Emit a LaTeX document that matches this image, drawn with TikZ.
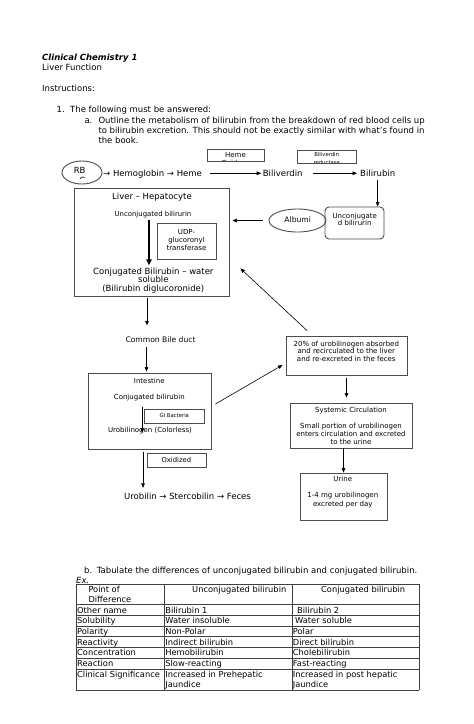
\documentclass[tikz,border=0pt]{standalone}
\usepackage{fontspec}
\setmainfont{DejaVu Sans}
\usetikzlibrary{arrows.meta,shapes.geometric}

\tikzset{
  txt/.style={inner sep=0pt, anchor=base west, font=\fontsize{8.5}{10}\selectfont},
  lbl/.style={inner sep=0pt, anchor=base, font=\fontsize{7}{8}\selectfont},
  tiny/.style={inner sep=0pt, anchor=base, font=\fontsize{5.3}{6}\selectfont},
  tbl/.style={inner sep=0pt, anchor=base west, font=\fontsize{8.3}{10}\selectfont},
  box/.style 2 args={draw=black!70, line width=0.9pt, inner sep=0pt, minimum width=#1, minimum height=#2},
  arr/.style={-{Triangle[length=4.5pt,width=3.6pt]}, line width=0.6pt},
  tline/.style={line width=0.6pt, draw=black!75},
}

\begin{document}
\begin{tikzpicture}[x=1pt,y=-1pt]
\useasboundingbox[fill=white] (0,0) rectangle (474,724);

% heading
\node[txt, font=\fontsize{8.5}{10}\selectfont\bfseries\itshape] (title) at (42,60) {Clinical Chemistry 1};
\node[txt] (topic) at (42,70.5) {Liver Function};
\node[txt] (instr) at (42,91.5) {Instructions:};
\node[txt] (num1) at (56.5,112.5) {1.};
\node[txt] (item1) at (70,112.5) {The following must be answered:};
\node[txt] (numa) at (84.3,123.5) {a.};
\foreach \y/\t [count=\i] in {123.5/Outline the metabolism of bilirubin from the breakdown of red blood cells up,
  133.5/to bilirubin excretion. This should not be exactly similar with what’s found in, 143.5/the book.}
  \node[txt] (itema\i) at (98.3,\y) {\t};

% heme to bilirubin
\node[ellipse, draw=black!70, line width=0.9pt, inner sep=0pt, minimum width=40pt, minimum height=23pt,
  path picture={
    \clip ([xshift=-30pt]path picture bounding box.north) rectangle ([xshift=30pt,yshift=-17.9pt]path picture bounding box.north);
    \node[txt, anchor=base, font=\fontsize{8.5}{10}\selectfont] (rbc1) at ([xshift=-2.3pt,yshift=-12.8pt]path picture bounding box.north) {RB};
    \node[txt, anchor=base, font=\fontsize{8.5}{10}\selectfont] (rbc2) at ([xshift=0.3pt,yshift=-22.8pt]path picture bounding box.north) {C};
  }] (rbc) at (82,172.5) {};
\node[txt] (hemo) at (103,176) {→ Hemoglobin → Heme};
\node[txt] (biliv) at (262.7,176) {Biliverdin};
\node[txt] (bilir) at (360,176) {Bilirubin};
\node[box={57pt}{12pt}, path picture={
    \node[lbl] (heox1) at ([yshift=-8.3pt]path picture bounding box.north) {Heme};
    \node[lbl] (heox2) at ([yshift=-16.8pt]path picture bounding box.north) {Oxidase};
  }] (heox) at (235.5,155) {};
\node[box={59pt}{13pt}, path picture={
    \node[tiny] (bvred1) at ([yshift=-6.7pt]path picture bounding box.north) {Biliverdin};
    \node[tiny] (bvred2) at ([yshift=-14.6pt]path picture bounding box.north) {reductase};
  }] (bvred) at (326.7,156.5) {};
\draw[arr] ([xshift=8pt]hemo.mid east) -- ([xshift=-1.5pt]biliv.mid west);
\draw[arr] ([xshift=10pt]biliv.mid east) -- ([xshift=-3pt]bilir.mid west);

% liver
\node[box={155pt}{108pt}] (liver) at (151.5,242) {};
\node[txt, anchor=base] (liverT) at (152,199.5) {Liver – Hepatocyte};
\node[lbl, font=\fontsize{6.9}{8}\selectfont] (ubil) at (153,216.7) {Unconjugated bilirurin};
\node[box={59pt}{36pt}] (udp) at (186.5,241) {};
\foreach \y/\t [count=\i] in {234/UDP-, 242.5/glucoronyl, 250.5/transferase}
  \node[lbl] (udp\i) at (186.5,\y) {\t};
\foreach \y/\t [count=\i] in {274/Conjugated Bilirubin – water, 282.7/soluble, 291.7/(Bilirubin diglucoronide)}
  \node[txt, anchor=base] (cbil\i) at (153.3,\y) {\t};
\draw[arr, line width=1.3pt, -{Triangle[length=6pt,width=5.5pt]}] ([xshift=-4pt,yshift=-2pt]ubil.south) -- ([xshift=-4pt,yshift=2pt]ubil.south |- cbil1.north);

% albumin and free bilirubin
\node[ellipse, draw=black!70, line width=0.9pt, inner sep=0pt, minimum width=57pt, minimum height=23pt] (alb) at (297.5,220.5) {};
\node[lbl, font=\fontsize{7.6}{9}\selectfont] (albT) at (297.7,222.3) {Albumi};
\node[box={59pt}{32pt}, rounded corners=4pt] (uncj) at (354.5,223) {};
\foreach \y/\t [count=\i] in {218.3/Unconjugate, 225.7/d bilirurin}
  \node[lbl] (uncj\i) at (354.7,\y) {\t};
\draw[arr] ([yshift=-4pt]bilir.south) -- (bilir.south |- uncj.north);
\draw[arr] ([xshift=-6pt]alb.west) -- ([xshift=3pt]alb.west -| liver.east);

% bile duct and intestine
\node[lbl, font=\fontsize{7.6}{9}\selectfont] (cbd) at (160.5,342.3) {Common Bile duct};
\draw[arr] ([xshift=-4.5pt,yshift=-2pt]liver.south) -- ([xshift=-4.5pt,yshift=11pt]liver.south |- cbd.north);
\node[box={123pt}{76pt}] (intest) at (149.5,411) {};
\node[lbl] (intT) at (149.3,383.3) {Intestine};
\node[lbl] (cjb) at (149.3,399) {Conjugated bilirubin};
\node[box={60pt}{14pt}] (gib) at (174,416) {};
\node[tiny] (gibT) at (174.3,417.3) {GI Bacteria};
\node[lbl] (urog) at (150,432.3) {Urobilinogen (Colorless)};
\draw[arr] ([xshift=-7pt,yshift=-6pt]cjb.south) -- ([xshift=-7pt,yshift=-6pt]cjb.south |- urog.north);
\draw[arr] ([xshift=-14pt,yshift=-4.5pt]cbd.south) -- ([xshift=-14pt,yshift=1pt]cbd.south |- intest.north);
\node[box={59pt}{14pt}] (oxid) at (176.5,460) {};
\node[lbl, font=\fontsize{6.8}{8}\selectfont] (oxidT) at (176.3,462.7) {Oxidized};
\node[txt, anchor=base] (uro) at (187.5,499) {Urobilin → Stercobilin → Feces};
\draw[arr] ([xshift=-6.5pt,yshift=-3pt]intest.south) -- ([xshift=-6.5pt,yshift=4.5pt]intest.south |- uro.north);

% urobilinogen fate
\node[box={121pt}{39pt}] (pct) at (346.5,355.5) {};
\foreach \y/\t [count=\i] in {346/20\% of urobilinogen absorbed, 353.7/and recirculated to the liver, 361.3/and re-excreted in the feces}
  \node[lbl] (pct\i) at (346.3,\y) {\t};
\node[box={122pt}{45pt}] (sys) at (351,425.5) {};
\foreach \y/\t [count=\i] in {412.3/Systemic Circulation, 428.3/Small portion of urobilinogen, 436.3/enters circulation and excreted, 444.3/to the urine}
  \node[lbl] (sys\i) at (351,\y) {\t};
\node[box={87pt}{47pt}] (urine) at (343.5,496.5) {};
\foreach \y/\t [count=\i] in {481.7/Urine, 497.7/1-4 mg urobilinogen, 506/excreted per day}
  \node[lbl] (urine\i) at (342.8,\y) {\t};
\draw[arr] ([shift={(4pt,7pt)}]intest.east) -- ([shift={(-3pt,-9.5pt)}]pct.west);
\draw[arr] ([shift={(-39.5pt,5pt)}]pct.north) -- ([shift={(11pt,28pt)}]liver.south east);
\draw[arr] ([yshift=-3pt]pct.south) -- ([yshift=5pt]pct.south |- sys.north);
\draw[arr] (sys.south -| urine.north) -- (urine.north);

% table
\node[txt] (numb) at (84,573) {b.};
\node[txt] (itemb) at (96.7,573) {Tabulate the differences of unconjugated bilirubin and conjugated bilirubin.};
\node[txt, font=\fontsize{8.5}{10}\selectfont\itshape] (ex) at (76,583.5) {Ex.};
\foreach \y in {584,604.5,615,626,636.7,647.3,658.3,669,690}
  \draw[tline] (76,\y) -- (419,\y);
\foreach \x in {76,164,292,419}
  \draw[tline] (\x,584) -- (\x,690);
\node[tbl] (h1) at (88.3,592.5) {Point of};
\node[tbl] (h1b) at (88.3,602.5) {Difference};
\node[tbl] (h2) at (192,592.5) {Unconjugated bilirubin};
\node[tbl] (h3) at (321,592.5) {Conjugated bilirubin};
\foreach \y/\a/\b/\c/\dx [count=\i] in {613/Other name/Bilirubin 1/Bilirubin 2/5,
  623.7/Solubility/Water insoluble/Water soluble/3,
  634.7/Polarity/Non-Polar/Polar/0.7,
  645.3/Reactivity/Indirect bilirubin/Direct bilirubin/0.7,
  655.7/Concentration/Hemobilirubin/Cholebilirubin/0.7,
  666.3/Reaction/Slow-reacting/Fast-reacting/0.7,
  677/Clinical Significance/Increased in Prehepatic/Increased in post hepatic/0.7,
  687.3//Jaundice/Jaundice/0.7}
{
  \node[tbl] (ra\i) at (77,\y) {\a};
  \node[tbl] (rb\i) at (165.2,\y) {\b};
  \node[tbl] (rc\i) at (292+\dx,\y) {\c};
}
\end{tikzpicture}
\end{document}
